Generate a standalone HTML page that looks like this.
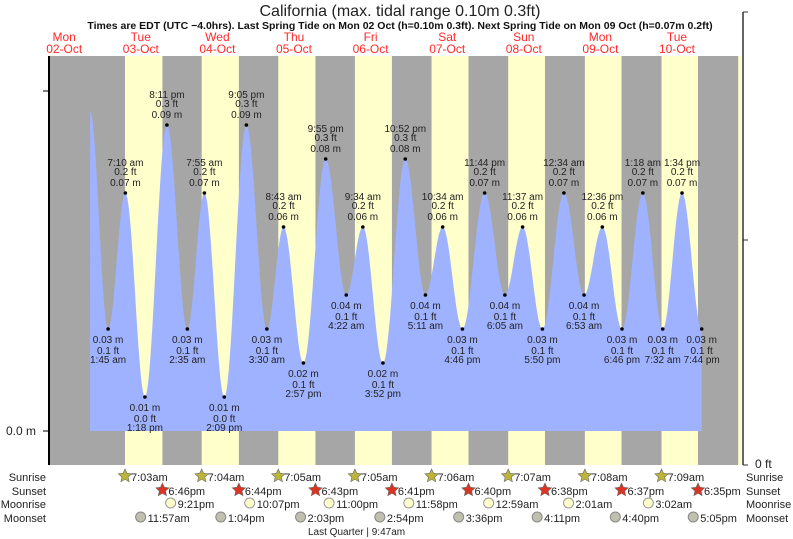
<!DOCTYPE html>
<html><head><meta charset="utf-8"><style>
body{margin:0;background:#fff;}
svg{display:block;font-family:"Liberation Sans",sans-serif;}
</style></head><body>
<svg id="c" width="793" height="539" xmlns="http://www.w3.org/2000/svg">
<text x="400" y="16" font-size="16" text-anchor="middle" fill="#222">California (max. tidal range 0.10m 0.3ft)</text>
<text x="400" y="29" font-size="10.5" font-weight="bold" text-anchor="middle" fill="#111">Times are EDT (UTC −4.0hrs). Last Spring Tide on Mon 02 Oct (h=0.10m 0.3ft). Next Spring Tide on Mon 09 Oct (h=0.07m 0.2ft)</text>
<g id="bands"></g><g id="tide"></g><g id="labels"></g><g id="axes"></g><g id="astro"></g>
</svg>
<script>
// ---- data ----
const dayNames = ["Mon","Tue","Wed","Thu","Fri","Sat","Sun","Mon","Tue"];
const dayDates = ["02-Oct","03-Oct","04-Oct","05-Oct","06-Oct","07-Oct","08-Oct","09-Oct","10-Oct"];
const tideDays  = [0,1,1,1,1,2,2,2,2,3,3,3,3,4,4,4,4,5,5,5,5,6,6,6,7,7,7,7,8,8,8,8];
const tideHours = [20.1,1.75,7.17,13.3,20.18,2.58,7.92,14.15,21.08,3.5,8.72,14.95,21.92,4.37,9.57,15.87,22.87,5.18,10.57,16.77,23.73,6.08,11.62,17.83,0.57,6.88,12.6,18.77,1.3,7.53,13.57,19.73];
const tideHeights = [0.094,0.03,0.07,0.01,0.09,0.03,0.07,0.01,0.09,0.03,0.06,0.02,0.08,0.04,0.06,0.02,0.08,0.04,0.06,0.03,0.07,0.04,0.06,0.03,0.07,0.04,0.06,0.03,0.07,0.03,0.07,0.03];
const tideFt = ["","0.1 ft","0.2 ft","0.0 ft","0.3 ft","0.1 ft","0.2 ft","0.0 ft","0.3 ft","0.1 ft","0.2 ft","0.1 ft","0.3 ft","0.1 ft","0.2 ft","0.1 ft","0.3 ft","0.1 ft","0.2 ft","0.1 ft","0.2 ft","0.1 ft","0.2 ft","0.1 ft","0.2 ft","0.1 ft","0.2 ft","0.1 ft","0.2 ft","0.1 ft","0.2 ft","0.1 ft"];
const tideTimes = ["","1:45 am","7:10 am","1:18 pm","8:11 pm","2:35 am","7:55 am","2:09 pm","9:05 pm","3:30 am","8:43 am","2:57 pm","9:55 pm","4:22 am","9:34 am","3:52 pm","10:52 pm","5:11 am","10:34 am","4:46 pm","11:44 pm","6:05 am","11:37 am","5:50 pm","12:34 am","6:53 am","12:36 pm","6:46 pm","1:18 am","7:32 am","1:34 pm","7:44 pm"];
const sunriseH = [7.05,7.07,7.08,7.08,7.1,7.12,7.13,7.15,7.17];
const sunriseL = ["7:03am","7:04am","7:05am","7:05am","7:06am","7:07am","7:08am","7:09am"];
const sunsetH = [18.77,18.73,18.72,18.68,18.67,18.63,18.62,18.58];
const sunsetL = ["6:46pm","6:44pm","6:43pm","6:41pm","6:40pm","6:38pm","6:37pm","6:35pm"];
const moonriseD = [1,2,3,4,6,7,8];
const moonriseH = [21.35,22.12,23.0,23.97,0.98,2.02,3.03];
const moonriseL = ["9:21pm","10:07pm","11:00pm","11:58pm","12:59am","2:01am","3:02am"];
const moonsetH = [11.95,13.07,14.05,14.9,15.6,16.18,16.67,17.08];
const moonsetL = ["11:57am","1:04pm","2:03pm","2:54pm","3:36pm","4:11pm","4:40pm","5:05pm"];

// ---- axes functions ----
const X0=25.9, DAYW=76.6, PL=49, PR=741, PT=56, PB=465;
const xT = (d,h)=> X0 + DAYW*(d + h/24);
const yM = m => 431 - m*3400;
const NS="http://www.w3.org/2000/svg";
function mk(tag, parent, attrs){const e=document.createElementNS(NS,tag);for(const k in attrs)e.setAttribute(k,attrs[k]);parent.appendChild(e);return e;}
function txt(parent,x,y,s,size,anchor,fill){const t=mk('text',parent,{x:x,y:y,'font-size':size,'text-anchor':anchor,fill:fill});t.textContent=s;return t;}

const bands=document.getElementById('bands');
const bg=mk('rect',bands,{x:PL,y:PT,width:PR-PL,height:PB-PT,fill:'#a6a6a6'});


for(let i=0;i<9;i++){
  const d=i+1;
  const x1=xT(d,sunriseH[i]);
  const x2=i<8?xT(d,sunsetH[i]):PR;
  const r=mk('rect',bands,{x:x1,y:PT,width:Math.min(x2,PR)-x1,height:PB-PT,fill:'#ffffcc'});
  
  
}
for(let i=0;i<9;i++){
  const cx=xT(i,12);
  const t1=txt(bands,cx,41,dayNames[i],12,'middle','#ff2a2a');
  
  
  const t2=txt(bands,cx,53,dayDates[i],12,'middle','#ff2a2a');
  
  
}

const tide=document.getElementById('tide');
const ts=tideDays.map((d,i)=>xT(d,tideHours[i]));
let pts=[];
for(let i=0;i<ts.length-1;i++){
  const n=20;
  for(let k=0;k<n;k++){
    const f=k/n;const v=tideHeights[i]+(tideHeights[i+1]-tideHeights[i])*(1-Math.cos(Math.PI*f))/2;
    pts.push([ts[i]+(ts[i+1]-ts[i])*f, yM(v)]);
  }
}
pts.push([ts[ts.length-1], yM(tideHeights[ts.length-1])]);
let dstr='M'+ts[0]+','+yM(0)+' '+pts.map(p=>'L'+p[0].toFixed(1)+','+p[1].toFixed(1)).join(' ')+' L'+ts[ts.length-1]+','+yM(0)+'Z';
const area=mk('path',tide,{d:dstr,fill:'#9fb2ff'});



const lab=document.getElementById('labels');
for(let i=1;i<ts.length;i++){
  const x=ts[i], y=yM(tideHeights[i]);
  const high=tideHeights[i]>tideHeights[i-1];
  const dot=mk('circle',lab,{cx:x,cy:y,r:1.8,fill:'#000'});
  
  
  const g=mk('g',lab,{});
  
  
  const m=tideHeights[i].toFixed(2)+' m';
  if(high){
    txt(g,x,y-27,tideTimes[i],10,'middle','#222');
    txt(g,x,y-18,tideFt[i],10,'middle','#222');
    txt(g,x,y-7,m,10,'middle','#222');
  }else{
    txt(g,x,y+14,m,10,'middle','#222');
    txt(g,x,y+25,tideFt[i],10,'middle','#222');
    txt(g,x,y+34,tideTimes[i],10,'middle','#222');
  }
}

const ax=document.getElementById('axes');
const la=mk('line',ax,{x1:PL,y1:PT,x2:PL,y2:PB,stroke:'#000','stroke-width':2});


mk('line',ax,{x1:43,y1:yM(0.1),x2:PL,y2:yM(0.1),stroke:'#000'});
mk('line',ax,{x1:43,y1:yM(0),x2:PL,y2:yM(0),stroke:'#000'});
const yl=txt(ax,36,435,'0.0 m',12,'end','#222');


const ra=mk('line',ax,{x1:743,y1:12,x2:743,y2:PB,stroke:'#333','stroke-width':1.5});


mk('line',ax,{x1:743,y1:12,x2:748,y2:12,stroke:'#333'});
mk('line',ax,{x1:743,y1:240,x2:748,y2:240,stroke:'#333'});
mk('line',ax,{x1:743,y1:PB,x2:748,y2:PB,stroke:'#333'});
const fl=txt(ax,755,468,'0 ft',12,'start','#222');



const as=document.getElementById('astro');
const rows=[["Sunrise",481],["Sunset",495],["Moonrise",508],["Moonset",522]];
rows.forEach(r=>{
  const a=txt(as,46,r[1],r[0],11,'end','#222');
  
  
  const b=txt(as,746,r[1],r[0],11,'start','#222');
  
  
});
function star(cx,cy,fill){
  let p=[];for(let k=0;k<10;k++){const a=-Math.PI/2+k*Math.PI/5;const rr=k%2?3.3:7;p.push((cx+rr*Math.cos(a)).toFixed(1)+','+(cy+rr*Math.sin(a)).toFixed(1));}
  return mk('polygon',as,{points:p.join(' '),fill:fill,stroke:'#666','stroke-width':0.6});
}
for(let i=0;i<8;i++){
  const x=xT(i+1,sunriseH[i]);
  const s=star(x,476,'#bdb43a');
  
  
  txt(as,x+6,481,sunriseL[i],11,'start','#222');
  const x2=xT(i+1,sunsetH[i]);
  const s2=star(x2,490,'#dd3322');
  
  
  txt(as,x2+6,495,sunsetL[i],11,'start','#222');
  const x4=xT(i+1,moonsetH[i]);
  const c2=mk('circle',as,{cx:x4,cy:517,r:5,fill:'#c0c0b0',stroke:'#888'});
  
  
  txt(as,x4+7,522,moonsetL[i],11,'start','#222');
}
for(let i=0;i<moonriseD.length;i++){
  const x=xT(moonriseD[i],moonriseH[i]);
  const c=mk('circle',as,{cx:x,cy:503,r:5,fill:'#ffffcc',stroke:'#999'});
  
  
  txt(as,x+7,508,moonriseL[i],11,'start','#222');
}
const lq=txt(as,308,535,'Last Quarter | 9:47am',10,'start','#222');


</script>
</body></html>
